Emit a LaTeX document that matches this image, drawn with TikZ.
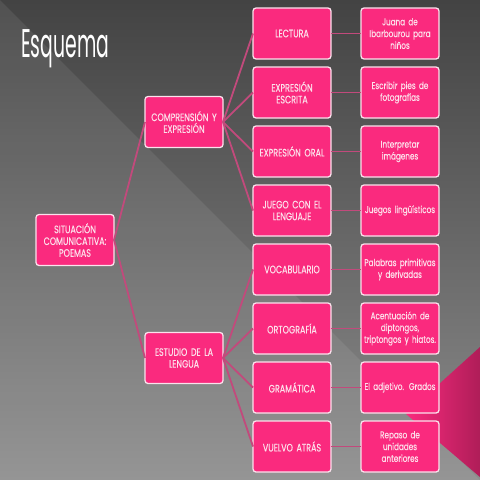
\documentclass[tikz,border=0pt]{standalone}
\usepackage{fontspec}
\usepackage{tikz}
\usetikzlibrary{positioning, calc}
\newfontfamily\boxfont[FakeStretch=0.74, FakeBold=0.3]{Poppins}
\newfontfamily\titlefont[FakeStretch=0.47]{Poppins}
\definecolor{boxpink}{HTML}{FA2A7E}
\definecolor{boxedge}{HTML}{FBE1EC}
\definecolor{boxtext}{HTML}{FDE0EB}
\definecolor{linkpink}{HTML}{C24A7C}
\definecolor{bgtop}{HTML}{434343}
\definecolor{bgbottom}{HTML}{8C8C8C}
\begin{document}
\begin{tikzpicture}[x=1pt, y=-1pt,
		box/.style = {rectangle, draw=boxedge, fill=boxpink, line width=1.3pt, outer sep=0pt, rounded corners=3pt, minimum width=78pt, minimum height=51pt, text width=74pt, inner sep=2pt, align=center, text=boxtext, font=\boxfont\fontsize{9.8}{11.8}\selectfont},
		capsbox/.style = {box, font=\boxfont\fontsize{10.8}{11.8}\selectfont},
		link/.style = {draw=linkpink, line width=1.8pt}
		]
		
		% Background
		\useasboundingbox (0,0) rectangle (480,480);
		\shade[top color=bgtop, bottom color=bgbottom] (0,0) rectangle (480,480);
		\fill[white, opacity=0.08] (0,0) -- (480,480) -- (0,480) -- cycle;
		\shade[left color=boxpink, right color=boxpink!70!black] (406,414) -- (480,347) -- (480,477) -- cycle;
		\node[text=white, font=\titlefont\fontsize{40}{40}\selectfont, anchor=base west, inner sep=0pt] (Titulo) at (21,57) {Esquema};
		
		% Boxes
		\node[capsbox] (Lectura) at (292,33.5) {LECTURA};
		\node[capsbox, below=8pt of Lectura] (Escrita) {EXPRESIÓN\\ESCRITA};
		\node[capsbox, below=8pt of Escrita] (Oral) {EXPRESIÓN ORAL};
		\node[capsbox, below=8pt of Oral] (Juego) {JUEGO CON EL\\LENGUAJE};
		\node[capsbox, below=8pt of Juego] (Vocabulario) {VOCABULARIO};
		\node[capsbox, below=8pt of Vocabulario] (Ortografia) {ORTOGRAFÍA};
		\node[capsbox, below=8pt of Ortografia] (Gramatica) {GRAMÁTICA};
		\node[capsbox, below=8pt of Gramatica] (Vuelvo) {VUELVO ATRÁS};
		
		\node[box, right=30pt of Lectura] (LecturaTexto) {Juana de\\Ibarbourou para\\niños};
		\node[box, right=30pt of Escrita] (EscritaTexto) {Escribir pies de\\fotografías};
		\node[box, right=30pt of Oral] (OralTexto) {Interpretar\\imágenes};
		\node[box, right=30pt of Juego] (JuegoTexto) {Juegos lingüísticos};
		\node[box, right=30pt of Vocabulario] (VocabularioTexto) {Palabras primitivas\\y derivadas};
		\node[box, right=30pt of Ortografia] (OrtografiaTexto) {Acentuación de\\diptongos,\\triptongos y hiatos.};
		\node[box, right=30pt of Gramatica] (GramaticaTexto) {El adjetivo. Grados};
		\node[box, right=30pt of Vuelvo] (VuelvoTexto) {Repaso de\\unidades\\anteriores};
		
		\node[capsbox, left=30pt of $(Lectura.west)!0.5!(Juego.west)$] (Comprension) {COMPRENSIÓN Y\\EXPRESIÓN};
		\node[capsbox, left=30pt of $(Vocabulario.west)!0.5!(Vuelvo.west)$] (Estudio) {ESTUDIO DE LA\\LENGUA};
		\node[capsbox, left=31pt of $(Comprension.west)!0.5!(Estudio.west)$] (Situacion) {SITUACIÓN\\COMUNICATIVA:\\POEMAS};
		
		% Links
		\draw[link] (Situacion.east) -- (Comprension.west);
		\draw[link] (Situacion.east) -- (Estudio.west);
		\foreach \n in {Lectura, Escrita, Oral, Juego}
			\draw[link] (Comprension.east) -- (\n.west);
		\foreach \n in {Vocabulario, Ortografia, Gramatica, Vuelvo}
			\draw[link] (Estudio.east) -- (\n.west);
		\foreach \n in {Lectura, Escrita, Oral, Juego, Vocabulario, Ortografia, Gramatica, Vuelvo}
			\draw[link] (\n.east) -- (\n Texto.west);
		
	\end{tikzpicture}
\end{document}
